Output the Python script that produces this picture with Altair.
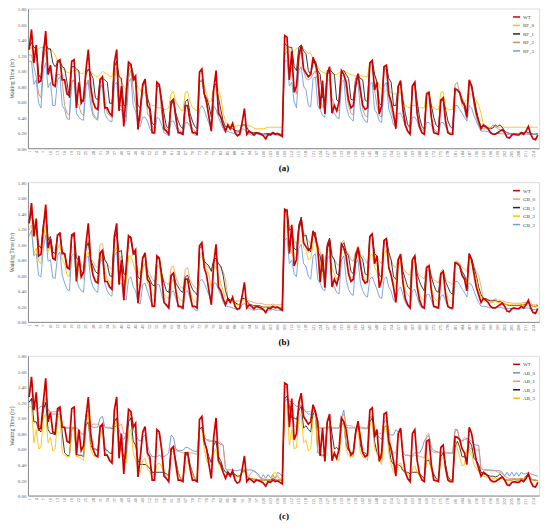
import altair as alt
import pandas as pd

X = list(range(1, 217))
TICKS = list(range(1, 217, 3))
Y_TICKS = [0, 0.2, 0.4, 0.6, 0.8, 1.0, 1.2, 1.4, 1.6, 1.8]

# values in hundredths of an hour, 36 groups of 6 points
WT = [127,153,110,133,85,87, 120,151,95,107,82,80, 112,114,88,88,70,68, 112,114,52,85,58,64,
      100,127,80,60,52,50, 88,92,52,52,45,42, 110,127,48,80,28,70, 111,108,88,93,24,50,
      82,89,55,50,20,20, 85,82,60,25,22,18, 60,63,40,20,20,18, 55,55,35,20,20,18,
      98,102,70,60,40,22, 75,100,45,40,30,22, 30,25,32,20,16,18, 33,51,18,22,20,17,
      20,19,18,16,12,18, 17,20,18,19,17,15,
      145,143,88,125,72,80, 120,132,102,97,92,95, 117,108,95,51,87,44, 95,105,45,55,48,60,
      100,95,85,62,52,55, 80,96,75,55,50,52, 110,113,75,85,44,55, 105,107,70,60,45,25,
      80,87,50,30,22,18, 80,85,45,28,20,18, 70,72,40,20,19,18, 62,65,35,20,18,18,
      76,75,72,60,55,40, 88,80,62,45,35,25, 30,28,25,20,18,18, 20,22,24,20,14,13,
      17,18,17,17,20,18, 22,28,18,12,11,17]

RF_0 = [127,130,125,125,128,130, 130,132,128,127,125,120, 112,110,105,100,98,97, 99,100,100,98,96,97,
        100,101,98,96,93,92, 95,99,97,95,93,92, 105,108,95,85,80,75, 100,105,95,85,78,75,
        70,72,62,58,55,55, 52,52,52,50,50,52, 70,73,60,55,50,48, 72,73,60,52,50,48,
        95,98,80,70,60,60, 78,82,75,65,45,35, 30,30,28,28,29,29, 30,30,29,29,28,26,
        25,25,25,25,26,27, 27,27,27,27,27,27,
        125,130,125,122,125,128, 130,133,128,125,122,123, 115,112,105,100,98,97, 95,97,96,95,95,97,
        99,100,98,96,95,94, 93,95,94,93,92,92, 110,112,95,88,80,75, 72,75,73,72,70,70,
        72,72,60,55,53,52, 55,55,53,52,52,52, 72,73,55,52,50,50, 72,73,52,50,50,50,
        76,75,72,65,60,62, 70,70,65,62,55,45, 30,28,27,27,27,27, 27,27,27,27,27,27,
        27,27,27,27,27,27, 27,27,27,27,27,27]

RF_1 = [130,136,130,128,95,90, 130,135,128,128,110,105, 110,112,105,103,85,65, 105,105,102,100,62,60,
        95,102,97,90,65,62, 90,90,88,85,58,58, 105,112,92,90,55,55, 105,108,95,85,55,52,
        80,85,65,55,32,30, 80,80,62,45,28,26, 55,62,45,35,28,25, 60,63,45,35,28,25,
        85,88,70,65,55,40, 80,83,65,50,35,28, 28,27,25,23,22,22, 30,30,27,22,20,20,
        20,20,19,18,19,19, 19,20,19,19,18,18,
        135,132,130,130,105,100, 130,133,125,122,100,95, 110,112,100,95,65,62, 100,102,98,95,62,60,
        98,100,95,90,63,62, 90,94,90,88,62,60, 110,112,95,85,58,55, 105,107,90,85,55,55,
        80,85,62,45,30,28, 80,85,60,40,28,25, 70,70,55,40,30,27, 62,62,50,35,28,25,
        78,75,70,62,58,45, 85,82,65,50,35,28, 28,27,26,25,26,30, 28,30,27,22,20,19,
        19,19,19,19,20,20, 21,20,19,18,18,19]

RF_2 = [120,120,105,92,70,65, 115,128,95,100,82,78, 95,95,85,55,45,43, 87,88,60,55,45,42,
        82,88,70,45,40,38, 80,82,60,45,42,40, 85,105,55,55,45,40, 90,100,75,55,40,35,
        80,85,45,40,28,25, 80,82,45,30,25,23, 60,62,35,25,22,20, 52,55,35,25,22,20,
        85,88,70,55,40,30, 80,80,55,40,30,25, 27,25,25,22,20,20, 28,30,22,20,19,18,
        19,19,18,18,18,18, 18,19,18,18,18,17,
        120,125,95,105,80,70, 115,125,100,90,88,90, 95,100,85,60,55,50, 95,100,65,55,50,48,
        92,95,75,55,45,43, 90,92,70,50,42,40, 105,110,75,55,42,40, 100,105,65,50,38,35,
        80,85,45,35,30,25, 80,85,45,30,25,22, 70,72,40,25,22,20, 62,65,35,22,20,20,
        82,85,70,55,50,38, 80,82,55,40,30,25, 25,25,25,26,30,28, 25,24,22,21,20,19,
        19,19,19,19,19,19, 20,19,19,18,18,18]

RF_3 = [112,112,82,88,58,52, 100,110,78,85,55,55, 88,92,55,50,38,37, 85,88,45,40,37,36,
        80,85,55,42,38,36, 80,80,45,38,35,34, 82,85,50,50,35,35, 85,90,55,48,30,28,
        40,40,35,25,20,18, 40,38,30,20,18,16, 35,35,28,20,18,17, 33,33,28,20,17,16,
        50,55,50,40,32,25, 55,50,40,32,25,20, 22,20,20,18,17,17, 25,24,20,18,17,17,
        18,18,17,17,17,17, 17,18,17,17,17,16,
        112,113,80,85,60,52, 100,105,80,75,55,53, 90,92,55,50,42,40, 88,88,50,45,40,38,
        85,88,55,42,38,35, 80,85,50,40,35,33, 82,85,50,45,35,33, 80,85,50,42,30,28,
        45,45,38,28,22,20, 40,40,35,25,20,18, 33,33,30,22,20,18, 33,33,28,22,18,17,
        55,55,50,45,40,35, 55,52,42,35,28,22, 22,22,21,20,19,19, 19,19,19,18,18,18,
        18,18,18,18,18,18, 18,18,18,18,18,18]

GB_0 = [128,135,128,125,100,95, 128,140,110,105,95,92, 110,115,90,88,75,70, 110,112,85,85,72,70,
        95,105,80,78,72,70, 100,101,80,75,70,68, 100,110,80,85,65,60, 100,105,90,85,65,62,
        85,88,68,62,55,52, 82,82,62,52,50,48, 70,72,58,50,45,43, 68,70,55,48,45,42,
        85,90,78,72,70,68, 78,80,75,70,65,55, 30,28,27,27,27,27, 30,30,28,27,26,25,
        24,24,24,23,22,22, 22,23,22,22,22,23,
        140,138,120,125,105,100, 125,135,115,110,105,100, 118,112,100,90,80,78, 100,108,85,80,75,72,
        102,105,92,88,80,78, 90,98,88,85,80,75, 110,115,85,85,78,75, 105,108,85,80,72,70,
        82,88,70,65,62,60, 80,85,65,60,58,55, 72,75,60,55,52,50, 65,68,55,52,50,48,
        78,78,75,70,68,65, 88,82,72,65,60,45, 30,30,29,28,28,30, 28,28,27,26,25,25,
        24,24,24,24,24,25, 25,26,24,22,22,23]

GB_1 = [130,140,125,120,98,95, 125,138,105,110,90,88, 112,115,90,88,72,68, 110,112,82,80,65,62,
        95,102,80,72,65,62, 90,92,80,75,60,58, 108,115,90,92,62,60, 108,110,90,85,58,55,
        82,86,62,55,48,46, 82,82,62,50,40,38, 58,63,50,45,40,38, 58,60,50,42,38,35,
        95,98,78,75,72,65, 80,82,75,72,60,40, 30,28,27,25,23,22, 30,30,27,23,22,21,
        21,21,20,19,19,19, 19,20,19,19,18,18,
        140,145,118,120,95,92, 125,135,110,112,95,90, 115,115,90,85,65,62, 100,108,85,80,62,60,
        98,102,90,85,65,62, 88,94,85,80,62,60, 110,113,88,85,60,58, 105,108,90,80,58,55,
        80,85,65,55,45,42, 80,85,62,52,45,40, 70,72,58,48,40,38, 62,65,52,45,38,35,
        76,76,72,65,60,50, 85,82,70,60,45,35, 30,30,28,27,27,28, 26,26,25,23,22,21,
        21,21,21,21,22,22, 23,24,22,20,20,21]

GB_2 = [118,125,88,95,78,75, 108,125,90,98,82,80, 95,100,80,75,60,58, 95,98,70,65,58,55,
        85,90,70,60,55,53, 80,85,65,55,52,50, 90,95,70,70,52,50, 85,85,75,65,48,45,
        70,75,50,45,35,32, 72,72,50,35,32,30, 50,55,40,32,28,26, 50,52,40,30,26,25,
        82,85,75,68,60,45, 68,72,60,50,40,30, 28,26,25,23,22,22, 28,28,25,22,21,20,
        20,20,19,19,19,19, 19,20,19,19,19,19,
        125,122,95,90,80,85, 120,128,95,92,80,82, 100,105,85,75,60,58, 90,95,70,62,55,55,
        92,95,75,65,55,52, 82,88,70,60,52,50, 85,88,70,65,52,50, 88,92,70,60,50,45,
        75,80,55,40,35,32, 75,80,50,35,30,28, 65,68,45,32,28,26, 60,62,40,30,27,25,
        78,78,72,60,55,50, 75,78,65,55,40,32, 28,28,26,25,25,26, 25,25,24,23,22,22,
        22,22,22,22,22,23, 23,24,22,20,19,20]

GB_3 = [110,118,85,88,60,58, 95,112,78,80,57,56, 85,90,60,50,42,40, 85,88,55,45,40,38,
        82,85,55,45,40,38, 78,80,50,40,35,33, 85,90,50,50,30,28, 55,58,45,40,25,23,
        48,50,40,30,22,20, 48,48,35,25,20,17, 38,40,30,22,18,16, 38,40,30,20,16,14,
        52,55,50,42,35,25, 50,50,42,35,25,20, 20,19,18,17,16,16, 22,24,20,17,16,15,
        16,16,16,15,14,15, 15,16,15,15,15,14,
        105,108,75,80,62,58, 95,100,75,72,58,55, 85,88,55,50,42,40, 82,85,50,45,38,36,
        80,85,55,42,36,34, 75,80,50,40,34,32, 55,58,50,42,32,30, 55,58,45,40,28,25,
        42,45,35,25,20,18, 40,42,32,22,18,17, 35,36,28,20,18,17, 33,35,27,20,17,16,
        52,52,48,42,38,32, 50,48,40,32,25,20, 20,20,19,18,18,18, 18,19,18,17,17,17,
        17,17,17,17,17,17, 18,18,17,16,16,17]

AB_0 = [120,125,118,115,112,115, 115,118,110,108,105,105, 105,105,88,87,87,87, 87,87,87,85,80,78,
        105,110,90,88,88,88, 100,102,88,87,87,86, 88,90,85,75,72,80, 100,100,85,80,72,70,
        75,78,65,55,50,50, 50,52,50,50,52,55, 78,75,60,58,58,58, 62,62,60,58,57,57,
        87,88,75,72,70,70, 70,70,68,66,65,35, 33,33,33,32,32,33, 33,33,33,33,33,32,
        30,27,22,27,22,27, 23,27,22,30,28,25,
        120,125,122,120,118,115, 115,117,112,108,105,105, 105,105,88,87,87,87, 87,87,87,87,87,87,
        100,110,88,87,87,87, 87,88,87,87,86,86, 100,102,85,78,75,72, 95,98,80,78,78,85,
        82,82,55,52,52,51, 52,55,55,55,60,70, 75,77,62,58,57,56, 56,56,55,55,55,55,
        85,85,72,70,72,74, 72,70,66,65,65,35, 33,33,33,32,32,32, 32,32,30,25,30,25,
        30,25,30,25,30,28, 28,30,28,27,26,25]

AB_1 = [127,150,110,130,90,88, 115,125,110,108,108,108, 108,110,90,88,88,88, 88,88,88,85,80,78,
        100,105,90,92,92,92, 90,92,88,88,88,87, 95,100,90,92,80,80, 100,105,85,80,45,50,
        80,85,50,45,30,25, 80,80,55,30,22,20, 60,62,58,57,56,55, 55,56,55,55,54,53,
        85,87,75,72,72,70, 72,70,70,68,65,35, 30,28,30,28,25,25, 30,33,25,25,30,32,
        28,25,22,22,20,20, 20,25,22,25,22,20,
        140,140,95,120,90,88, 115,125,110,108,108,108, 110,108,88,87,87,87, 87,88,87,87,87,87,
        100,105,90,90,90,88, 88,90,88,88,87,87, 100,105,85,82,80,80, 95,98,85,60,55,55,
        80,85,55,52,52,51, 50,52,52,50,50,48, 78,80,58,56,55,55, 55,55,55,55,54,54,
        82,85,72,70,75,72, 62,60,60,58,60,35, 33,33,33,33,33,32, 30,30,28,25,23,22,
        22,22,22,22,22,22, 25,28,22,20,19,20]

AB_2 = [120,125,95,95,85,82, 110,120,85,80,80,78, 108,113,80,55,52,51, 85,88,53,52,52,50,
        90,95,65,60,60,58, 90,92,60,58,55,54, 95,100,70,60,50,48, 95,100,70,65,45,40,
        40,40,38,35,30,30, 30,30,30,30,28,25, 60,60,45,30,22,20, 50,55,40,30,22,20,
        85,88,70,60,50,42, 65,70,50,45,35,30, 30,28,27,27,25,25, 30,32,25,22,22,21,
        21,20,20,20,20,20, 20,22,20,20,20,19,
        125,128,115,100,100,98, 110,115,87,90,85,82, 105,110,55,53,52,52, 95,100,80,60,62,58,
        90,95,65,58,55,55, 85,92,65,55,55,52, 95,100,70,55,50,48, 88,90,65,45,40,38,
        40,38,32,30,30,28, 30,30,30,28,25,22, 45,45,35,28,22,20, 50,55,40,25,20,20,
        62,70,62,50,50,45, 70,65,48,45,40,30, 28,27,26,25,25,24, 25,28,24,20,20,20,
        20,21,20,20,22,20, 25,28,22,20,20,19]

AB_3 = [115,115,68,85,60,62, 100,105,68,75,57,60, 100,105,55,52,50,50, 85,88,50,50,48,45,
        95,105,60,52,50,50, 80,85,55,52,48,45, 90,95,60,55,45,42, 80,85,55,45,35,30,
        45,48,35,30,25,23, 40,42,38,30,22,20, 55,58,40,28,22,20, 42,45,38,28,22,20,
        85,86,60,45,40,38, 55,60,42,35,30,25, 28,27,26,25,24,24, 30,31,25,22,22,21,
        21,20,20,20,20,20, 20,28,30,25,20,18,
        118,115,65,85,60,62, 100,105,68,72,58,60, 100,102,55,52,50,50, 88,90,55,50,48,45,
        90,95,60,52,50,50, 82,88,55,50,48,45, 90,95,60,55,45,40, 88,90,55,40,30,28,
        40,42,35,30,28,25, 35,38,30,25,22,20, 45,48,32,25,20,20, 45,50,35,22,20,19,
        72,60,50,38,40,60, 60,55,40,35,30,28, 25,24,24,23,22,22, 22,24,22,20,20,20,
        20,21,20,20,22,20, 24,28,22,20,20,19]

FONT = "Liberation Serif"


def make_panel(names, arrays, colors, caption):
    rows = []
    for n, arr in zip(names, arrays):
        for t, v in zip(X, arr):
            rows.append({"t": t, "series": n, "value": v / 100})
    df = pd.DataFrame(rows)
    base = alt.Chart(df).encode(
        x=alt.X("t:Q", scale=alt.Scale(domain=[0.5, 216.5], nice=False, zero=False),
                axis=alt.Axis(values=TICKS, labelAngle=270, labelFontSize=4.5, labelPadding=2,
                              ticks=False, labelOverlap=False, labelBound=False, labelFlush=False,
                              domainColor="#8C8C8C", grid=False, title=caption, titleFontSize=9,
                              titleFontWeight="bold", titlePadding=7, titleColor="#000000",
                              labelColor="#595959", labelFont=FONT, titleFont=FONT)),
        y=alt.Y("value:Q", scale=alt.Scale(domain=[0, 1.8], nice=False),
                axis=alt.Axis(values=Y_TICKS, format=".2f", labelFontSize=5, labelPadding=2,
                              ticks=False, grid=False, domainColor="#8C8C8C",
                              title="Waiting Time (hr)", titleFontSize=5.5, titleFontWeight="normal",
                              titlePadding=3, titleColor="#404040", labelColor="#595959",
                              labelFont=FONT, titleFont=FONT)),
        color=alt.Color("series:N", sort=names, scale=alt.Scale(domain=names, range=colors),
                        legend=alt.Legend(title=None, orient="top-right", offset=4,
                                          symbolType="stroke", symbolSize=50, symbolStrokeWidth=1.5,
                                          labelFontSize=5, labelFont=FONT, labelColor="#404040",
                                          rowPadding=0.5, padding=0, labelOffset=2)),
    )
    others = base.transform_filter(alt.datum.series != "WT").mark_line(strokeWidth=0.9)
    wt = base.transform_filter(alt.datum.series == "WT").mark_line(strokeWidth=1.7)
    return alt.layer(others, wt).properties(width=512, height=140)


pa = make_panel(["WT", "RF_0", "RF_1", "RF_2", "RF_3"], [WT, RF_0, RF_1, RF_2, RF_3],
                ["#D00000", "#FFC000", "#262626", "#C5906C", "#6F9EE0"], "(a)")
pb = make_panel(["WT", "GB_0", "GB_1", "GB_2", "GB_3"], [WT, GB_0, GB_1, GB_2, GB_3],
                ["#D00000", "#F4A26A", "#262626", "#FFC000", "#6F9EE0"], "(b)")
pc = make_panel(["WT", "AB_0", "AB_1", "AB_2", "AB_3"], [WT, AB_0, AB_1, AB_2, AB_3],
                ["#D00000", "#6E8FCB", "#E59A6E", "#262626", "#FFC000"], "(c)")

chart = (
    alt.vconcat(pa, pb, pc, spacing=5)
    .resolve_scale(color="independent")
    .properties(padding={"left": 0, "top": -3, "right": 0, "bottom": 0})
    .configure_view(stroke="#BFBFBF", strokeWidth=0.8)
    .configure(font=FONT, background="white")
)

chart.save("out.html", embed_options={"renderer": "svg", "actions": False})
